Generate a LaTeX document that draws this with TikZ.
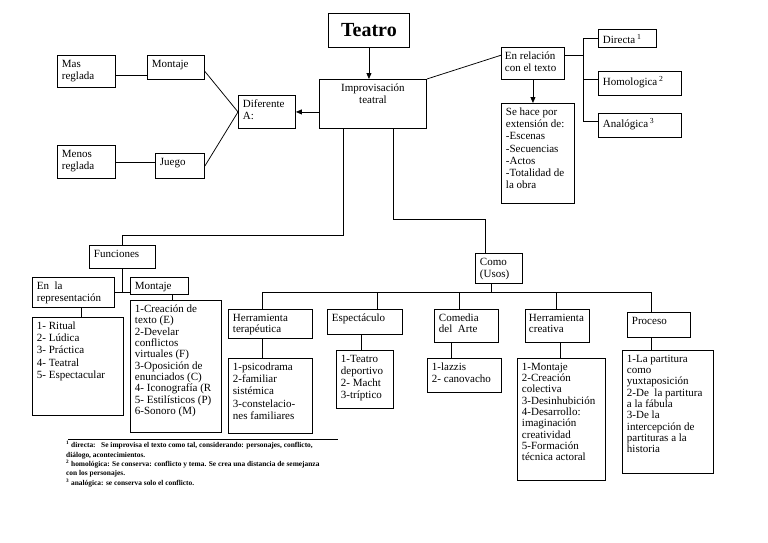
\documentclass[tikz,border=0pt]{standalone}
\usepackage{fontspec}
\setmainfont{Liberation Serif}
\usetikzlibrary{arrows.meta,calc}
\tikzset{
  box/.style={draw, line width=0.9pt, anchor=north west, inner xsep=4.5pt, inner ysep=4.5pt,
    font=\fontsize{11}{12.2}\selectfont},
  tight/.style={font=\fontsize{11}{11.3}\selectfont},
  conn/.style={draw, line width=0.75pt},
  arr/.style={conn, -{Triangle[length=6pt,width=5pt]}},
  title/.style={draw, line width=0.9pt, anchor=north west, inner sep=0pt,
    font=\bfseries\fontsize{20}{21}\selectfont},
  fnote/.style={anchor=north west, inner sep=0pt, align=left,
    font=\bfseries\fontsize{7.4}{9.4}\selectfont}
}
\newcommand{\bx}[7][]{%
  \pgfmathsetmacro{\bw}{#5-#3-9}%
  \pgfmathsetmacro{\bh}{#6-#4-9}%
  \node[box,#1] (#2) at (#3,#4) {\parbox[c][\bh pt][t]{\bw pt}{\raggedright #7}};%
}
\begin{document}
\begin{tikzpicture}[x=1pt,y=-1pt]
\useasboundingbox (0,0) rectangle (768,543);
\fill[white] (0,0) rectangle (768,543);

% top part
\node[title, minimum width=81pt, minimum height=34pt] (teatro) at (328,13) {Teatro};
\bx{impro}{319}{79}{426}{128}{\centering Improvisación\\ teatral}
\bx{dif}{238}{95}{295}{128}{Diferente\\ A:}
\bx{masr}{57}{55}{115}{87}{Mas\\ reglada}
\bx{mont1}{147}{55}{204}{79}{Montaje}
\bx{menr}{57}{145}{115}{178}{Menos\\ reglada}
\bx{juego}{155}{153}{204}{178}{Juego}
\bx[inner xsep=3.5pt]{enrel}{501}{47}{566}{79}{En relación\\ con el texto}
\bx{sehace}{501}{103}{574}{203}{Se hace por\\ extensión de:\\ -Escenas\\ -Secuencias\\ -Actos\\ -Totalidad de\\ la obra}
\bx{directa}{598}{29}{656}{47}{Directa\,\textsuperscript{1}}
\bx{homo}{598}{71}{681}{95}{Homologica\,\textsuperscript{2}}
\bx{analo}{598}{113}{681}{137}{Analógica\,\textsuperscript{3}}

% left lower part
\bx{func}{89}{245}{155}{268}{Funciones}
\bx{enrep}{32}{277}{114}{307}{En\ \ la\\ representación}
\bx{mont2}{130}{277}{188}{294}{Montaje}
\bx{enrepl}{32}{317}{123}{415}{1- Ritual\\ 2- Lúdica\\ 3- Práctica\\ 4- Teatral\\ 5- Espectacular}
\bx[tight]{mont2l}{130}{300}{221}{432}{1-Creación de\\ texto (E)\\ 2-Develar\\ conflictos\\ virtuales (F)\\ 3-Oposición de\\ enunciados (C)\\ 4- Iconografía (R\\ 5- Estilísticos (P)\\ 6-Sonoro (M)}

% right lower part
\bx{como}{475}{253}{522}{283}{Como\\ (Usos)}
\bx[tight]{herrt}{228}{309}{312}{338}{Herramienta\\ terapéutica}
\bx{espec}{327}{309}{402}{334}{Espectáculo}
\bx[tight]{comedia}{434}{309}{498}{342}{Comedia\\ del\ \ Arte}
\bx[tight, inner xsep=3.5pt]{herrc}{525}{309}{591}{342}{Herramienta\\ creativa}
\bx{proc}{627}{312}{690}{337}{Proceso}
\bx{herrtl}{228}{358}{312}{433}{1-psicodrama\\ 2-familiar\\ sistémica\\ 3-constelacio-\\ nes familiares}
\bx{especl}{336}{350}{393}{408}{1-Teatro\\ deportivo\\ 2- Macht\\ 3-tríptico}
\bx{comedial}{427}{358}{501}{392}{1-lazzis\\ 2- canovacho}
\bx[tight]{herrcl}{517}{358}{605}{480}{1-Montaje\\ 2-Creación\\ colectiva\\ 3-Desinhubición\\ 4-Desarrollo:\\ imaginación\\ creatividad\\ 5-Formación\\ técnica actoral}
\bx[tight]{procl}{622}{350}{713}{473}{1-La partitura\\ como\\ yuxtaposición\\ 2-De\ \ la partitura\\ a la fábula\\ 3-De la\\ intercepción de\\ partituras a la\\ historia}

% footnotes
\draw[line width=0.6pt] (68,439) -- (338,439);
\node[fnote] (fn) at (66,441) {\textsuperscript{1} directa:\ \ \ Se improvisa el texto como tal, considerando: personajes, conflicto,\\
diálogo, acontecimientos.\\
\textsuperscript{2} homológica: Se conserva: conflicto y tema. Se crea una distancia de semejanza\\
con los personajes.\\
\textsuperscript{3} analógica: se conserva solo el conflicto.};

% connectors top
\draw[arr] (teatro.south) -- (teatro.south |- impro.north);
\draw[arr] (dif.east -| impro.west) -- (dif.east);
\draw[conn] ([yshift=-4pt]mont1.east) -- (dif.west);
\draw[conn] (juego.east) -- (dif.west);
\draw[conn] ([yshift=-4pt]masr.east) -- ([yshift=-4pt]masr.east -| mont1.west);
\draw[conn] (menr.east) -- (menr.east -| juego.west);
\draw[conn] (impro.north east) -- ($(enrel.north west)!0.25!(enrel.south west)$);
\draw[arr] (enrel.south) -- (enrel.south |- sehace.north);
\coordinate (brx) at (583,0);
\coordinate (br) at ($(enrel.north east)!0.25!(enrel.south east)$);
\draw[conn] (br) -- (br -| brx);
\draw[conn] (brx |- directa.west) -- ([yshift=4pt]brx |- analo.west);
\draw[conn] (brx |- directa.west) -- (directa.west);
\draw[conn] ([yshift=4pt]brx |- homo.west) -- ([yshift=4pt]homo.west);
\draw[conn] ([yshift=4pt]brx |- analo.west) -- ([yshift=4pt]analo.west);

% impro to lower parts
\draw[conn] ([xshift=-30pt]impro.south) -- ++(0,106) -| (func.north);
\draw[conn] ([xshift=20pt]impro.south) -- ++(0,90) -| ([xshift=-14pt]como.north);

% funciones
\draw[conn] (func.south) -- (func.south |- enrep.east);
\draw[conn] (enrep.east) -- (enrep.east -| mont2.west);
\draw[conn] ([xshift=8pt]enrep.south) -- ([xshift=8pt]enrep.south |- enrepl.north);
\draw[conn] ([xshift=13pt]mont2.south) -- ([xshift=13pt]mont2.south |- mont2l.north);

% como bar
\coordinate (bar) at (0,292);
\draw[conn] ([xshift=-8pt]como.south) -- ([xshift=-8pt]como.south |- bar);
\draw[conn] ([xshift=-8pt]herrt.north |- bar) -- ([xshift=-8pt]proc.north |- bar);
\draw[conn] ([xshift=-8pt]herrt.north |- bar) -- ([xshift=-8pt]herrt.north);
\draw[conn] ([xshift=12pt]espec.north |- bar) -- ([xshift=12pt]espec.north);
\draw[conn] ([xshift=-7pt]comedia.north |- bar) -- ([xshift=-7pt]comedia.north);
\draw[conn] ([xshift=-1pt]herrc.north |- bar) -- ([xshift=-1pt]herrc.north);
\draw[conn] ([xshift=-8pt]proc.north |- bar) -- ([xshift=-8pt]proc.north);

% lists
\draw[conn] ([xshift=-8pt]herrt.south) -- ([xshift=-8pt]herrt.south |- herrtl.north);
\draw[conn] ([xshift=-4pt]espec.south) -- ([xshift=-4pt]espec.south |- especl.north);
\draw[conn] ([xshift=-15pt]comedia.south) -- ([xshift=-15pt]comedia.south |- comedial.north);
\draw[conn] ([xshift=3pt]herrc.south) -- ([xshift=3pt]herrc.south |- herrcl.north);
\draw[conn] ([xshift=-8pt]proc.south) -- ([xshift=-8pt]proc.south |- procl.north);
\end{tikzpicture}
\end{document}
